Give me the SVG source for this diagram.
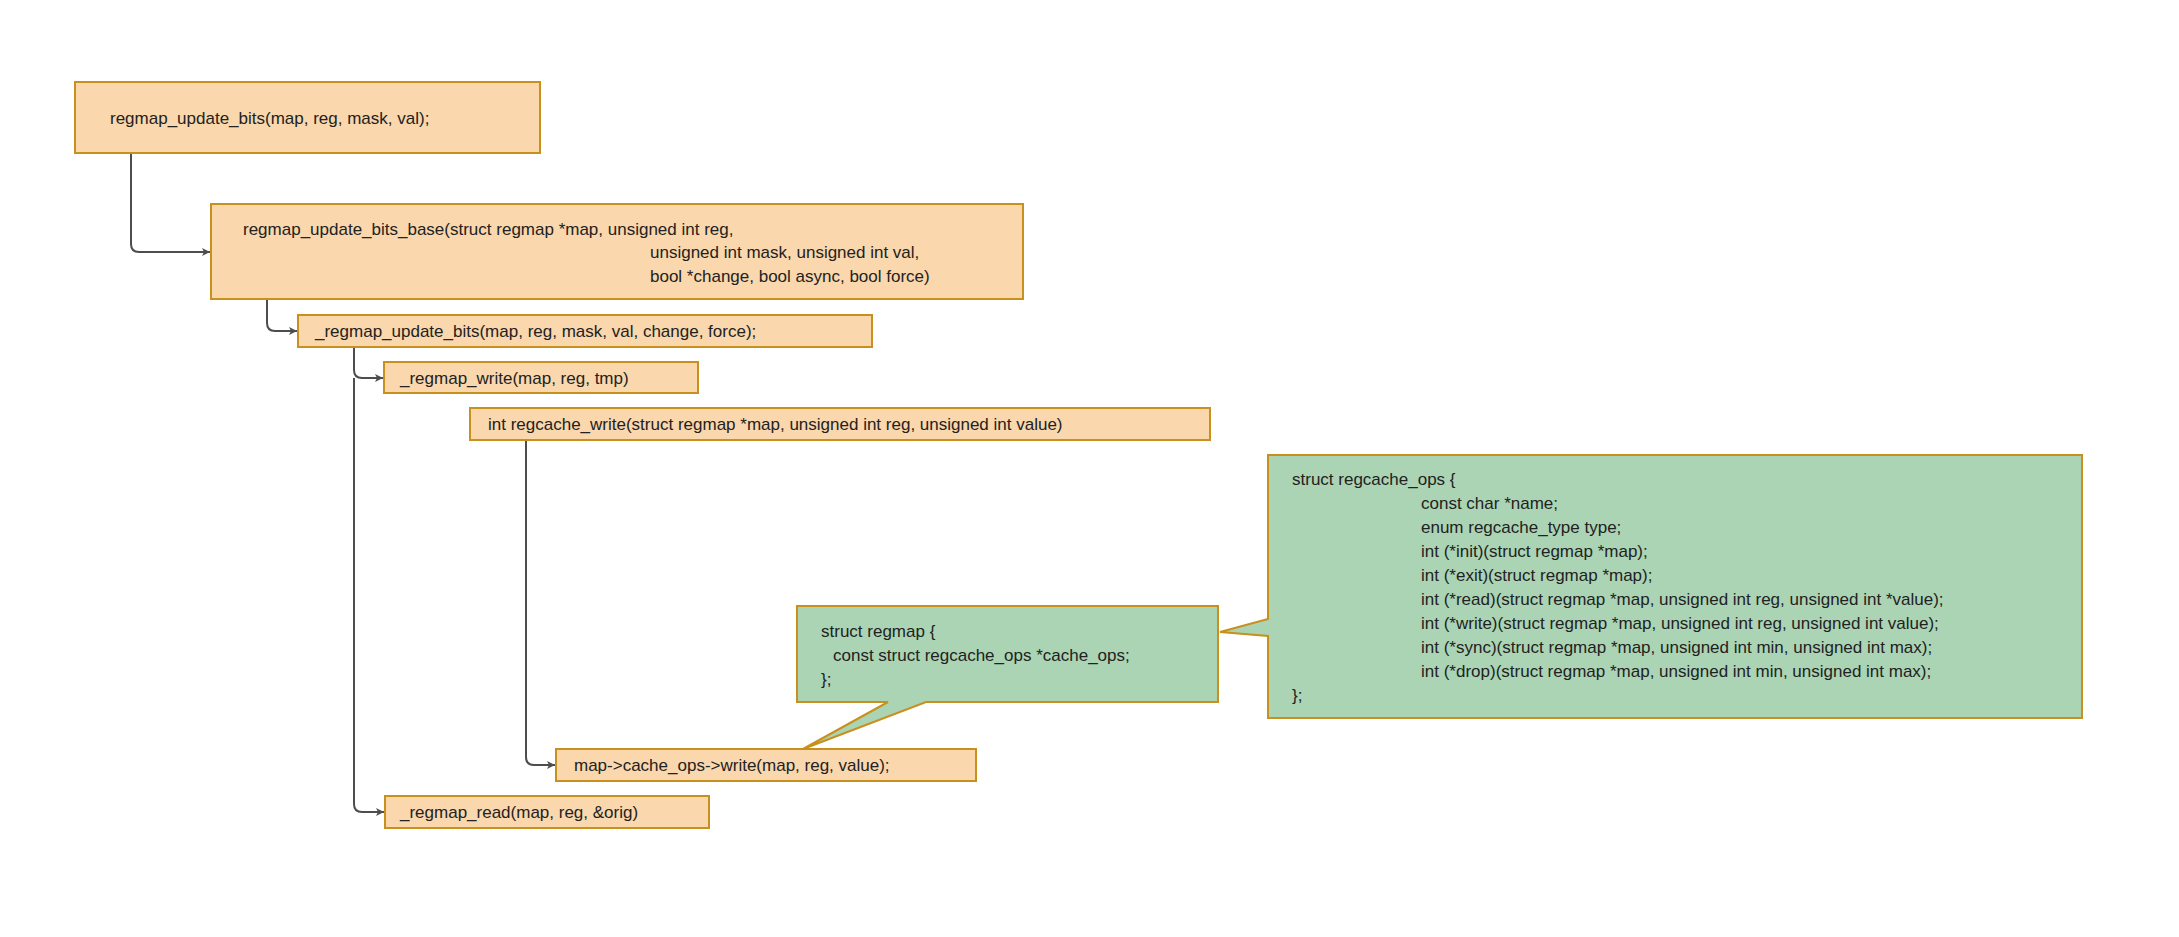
<svg xmlns="http://www.w3.org/2000/svg" width="2179" height="937" viewBox="0 0 2179 937">
<style>
.o{fill:#fad7ac;stroke:#c8901c;stroke-width:2}
.g{fill:#abd4b4;stroke:#c8901c;stroke-width:2}
text{font-family:"Liberation Sans",Arial,sans-serif;font-size:17px;fill:#222}
.c{fill:none;stroke:#4d4d4d;stroke-width:2}
</style>
<defs><marker id="a" markerWidth="10" markerHeight="10" refX="9" refY="5" orient="auto" markerUnits="userSpaceOnUse"><path d="M1,1 L9,5 L1,9 L3,5 Z" fill="#4d4d4d"/></marker></defs>
<rect width="2179" height="937" fill="#fff"/>
<g id="connectors">
<path class="c" d="M131,153 V244 Q131,252 139,252 H210" marker-end="url(#a)"/>
<path class="c" d="M267,299 V323 Q267,331 275,331 H297" marker-end="url(#a)"/>
<path class="c" d="M354,347 V370 Q354,378 362,378 H383" marker-end="url(#a)"/>
<path class="c" d="M354,378 V804 Q354,812 362,812 H384" marker-end="url(#a)"/>
<path class="c" d="M526,440 V757 Q526,765 534,765 H555" marker-end="url(#a)"/>
</g>
<g id="n1"><rect class="o" x="75" y="82" width="465" height="71"/><text x="110" y="124">regmap_update_bits(map, reg,  mask, val);</text></g>
<g id="n2"><rect class="o" x="211" y="204" width="812" height="95"/>
<text x="243" y="235">regmap_update_bits_base(struct regmap *map, unsigned int reg,</text>
<text x="650" y="258">unsigned int mask, unsigned int val,</text>
<text x="650" y="282">bool *change, bool async, bool force)</text></g>
<g id="n3"><rect class="o" x="298" y="315" width="574" height="32"/><text x="315" y="337">_regmap_update_bits(map, reg, mask, val, change, force);</text></g>
<g id="n4"><rect class="o" x="384" y="362" width="314" height="31"/><text x="400" y="384">_regmap_write(map, reg, tmp)</text></g>
<g id="n5"><rect class="o" x="470" y="408" width="740" height="32"/><text x="488" y="430">int regcache_write(struct regmap *map, unsigned int reg, unsigned int value)</text></g>
<g id="n6"><rect class="o" x="556" y="749" width="420" height="32"/><text x="574" y="771">map-&gt;cache_ops-&gt;write(map, reg, value);</text></g>
<g id="n7"><rect class="o" x="385" y="796" width="324" height="32"/><text x="400" y="818">_regmap_read(map, reg, &amp;orig)</text></g>
<g id="c1"><path class="g" d="M797,606 H1218 V702 H926 L803,749 L888,702 H797 Z"/>
<text x="821" y="637">struct regmap {</text>
<text x="833" y="661">const struct regcache_ops *cache_ops;</text>
<text x="821" y="685">};</text></g>
<g id="c2"><path class="g" d="M1268,455 H2082 V718 H1268 V636 L1220,632 L1268,619 Z"/>
<text x="1292" y="485">struct regcache_ops {</text>
<text x="1421" y="509">const char *name;</text>
<text x="1421" y="533">enum regcache_type type;</text>
<text x="1421" y="557">int (*init)(struct regmap *map);</text>
<text x="1421" y="581">int (*exit)(struct regmap *map);</text>
<text x="1421" y="605">int (*read)(struct regmap *map, unsigned int reg, unsigned int *value);</text>
<text x="1421" y="629">int (*write)(struct regmap *map, unsigned int reg, unsigned int value);</text>
<text x="1421" y="653">int (*sync)(struct regmap *map, unsigned int min, unsigned int max);</text>
<text x="1421" y="677">int (*drop)(struct regmap *map, unsigned int min, unsigned int max);</text>
<text x="1292" y="701">};</text></g>
</svg>
